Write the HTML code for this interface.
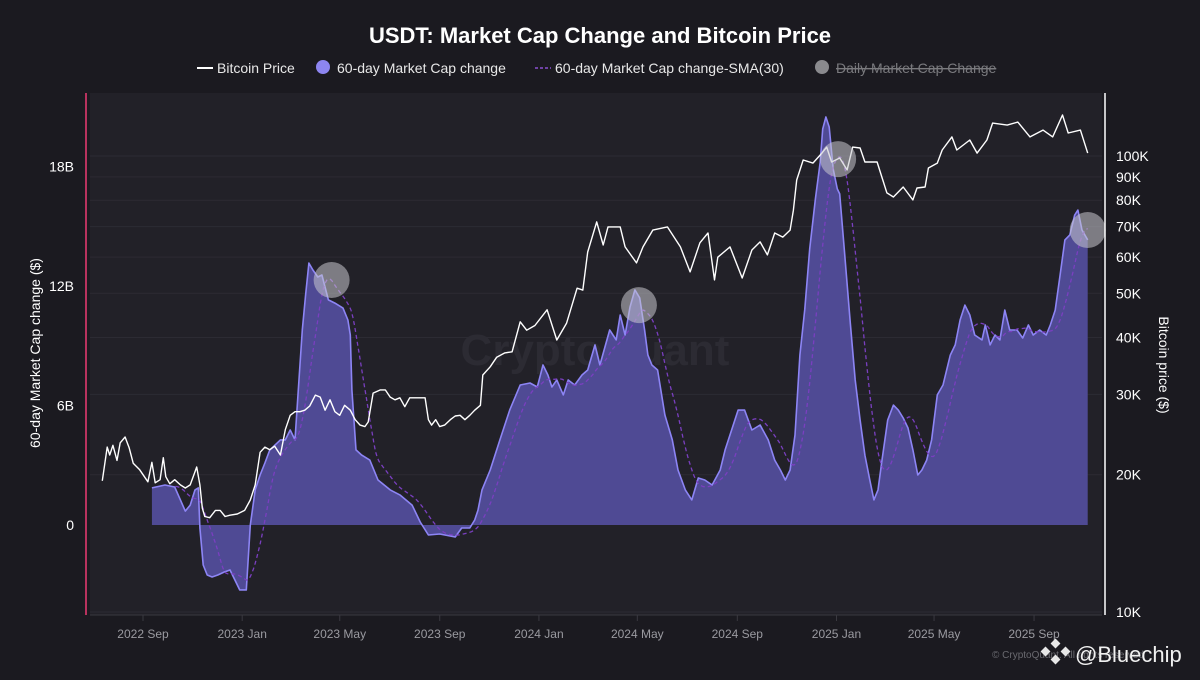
<!DOCTYPE html>
<html><head><meta charset="utf-8">
<style>
html,body{margin:0;padding:0;background:#1b1a20;}
body{width:1200px;height:675px;overflow:hidden;font-family:"Liberation Sans",sans-serif;}
svg text{font-family:"Liberation Sans",sans-serif;}
</style></head>
<body>
<svg id="chart" width="1200" height="675" xmlns="http://www.w3.org/2000/svg">
  <rect x="0" y="0" width="1200" height="675" fill="#1b1a20"/>
  <text x="600" y="43" text-anchor="middle" fill="#ffffff" font-size="22" font-weight="bold">USDT: Market Cap Change and Bitcoin Price</text>
  <g font-size="14" fill="#e8e8e8">
    <g>
      <line x1="197" y1="68" x2="213" y2="68" stroke="#fff" stroke-width="2"/>
      <text x="217" y="73">Bitcoin Price</text>
    </g>
    <g>
      <circle cx="323" cy="67" r="7" fill="#8d85f0"/>
      <text x="337" y="73">60-day Market Cap change</text>
    </g>
    <g>
      <line x1="535" y1="68" x2="551" y2="68" stroke="#8a4fd0" stroke-width="1.5" stroke-dasharray="3,2"/>
      <text x="555" y="73">60-day Market Cap change-SMA(30)</text>
    </g>
    <g>
      <circle cx="822" cy="67" r="7" fill="#8a8a8e"/>
      <text x="836" y="73" fill="#7a7a7e" text-decoration="line-through">Daily Market Cap Change</text>
    </g>
  </g>
  <rect x="90" y="93" width="1012" height="522" fill="#222128"/>
  <text x="595" y="365" text-anchor="middle" fill="#2c2b33" font-size="44" font-weight="bold">CryptoQuant</text>
  <g id="grid"></g>
  <g id="area"></g>
  <g id="price"></g>
  <g id="marks"></g>
  <line x1="86" y1="93" x2="86" y2="615" stroke="#b8325e" stroke-width="2"/>
  <line x1="1105" y1="93" x2="1105" y2="615" stroke="#ffffff" stroke-width="1.5"/>
  <line x1="90" y1="615" x2="1102" y2="615" stroke="#3a3940" stroke-width="1"/>
  <g id="axes"></g>
  <text transform="translate(40,353) rotate(-90)" text-anchor="middle" fill="#fff" font-size="14">60-day Market Cap change ($)</text>
  <text transform="translate(1159,365) rotate(90)" text-anchor="middle" fill="#fff" font-size="14">Bitcoin price ($)</text>
  <text x="992" y="658" fill="#6a6a70" font-size="10">© CryptoQuant. All rights reserved</text>
  <g fill="#e8e8e8">
    <rect x="1052" y="640" width="7" height="7" transform="rotate(45 1055.5 643.5)"/>
    <rect x="1042" y="648" width="7" height="7" transform="rotate(45 1045.5 651.5)"/>
    <rect x="1062" y="648" width="7" height="7" transform="rotate(45 1065.5 651.5)"/>
    <rect x="1052" y="656" width="7" height="7" transform="rotate(45 1055.5 659.5)"/>
  </g>
  <text x="1075" y="662" fill="#f0f0f0" font-size="22">@Bluechip</text>
</svg>
<script>
// days since 2022-09-01
const mcDays=[11,27,39,46,52,58,64,68,70,74,79,85,92,100,107,113,119,127,132,138,144,150,156,169,175,181,187,191,196,200,204,209,215,220,228,236,246,252,255,257,262,269,279,289,304,316,331,341,351,365,384,392,402,408,412,417,427,439,451,464,476,485,492,498,503,509,517,523,531,540,547,556,562,574,582,587,593,599,605,611,617,621,626,633,642,651,658,667,675,683,691,700,710,716,724,732,740,749,759,769,777,784,790,796,802,808,814,820,827,833,836,840,844,849,854,857,863,870,876,882,888,894,899,904,909,916,923,929,935,941,947,953,958,964,970,977,984,993,999,1005,1011,1017,1023,1032,1036,1042,1048,1054,1060,1066,1075,1082,1089,1095,1103,1111,1116,1122,1128,1134,1140,1146,1150,1155,1162];
// 60-day market cap change, billions USD
const mcValues=[1.86,2.01,1.91,1.26,0.70,1.00,1.76,1.86,-0.15,-2.01,-2.51,-2.61,-2.51,-2.36,-2.26,-2.76,-3.26,-3.26,0.0,1.76,2.51,3.11,3.77,4.27,4.27,4.77,4.27,6.78,9.79,11.55,13.15,12.80,12.45,12.55,11.30,11.14,10.89,10.29,9.54,6.78,3.77,3.51,3.26,2.26,1.76,1.51,1.00,0.15,-0.50,-0.45,-0.60,-0.15,-0.15,0.25,0.75,1.76,2.76,4.27,5.77,7.03,7.13,6.93,8.03,7.53,6.93,7.28,6.53,7.28,7.03,7.53,7.78,9.04,8.03,9.79,9.29,10.54,9.54,10.94,11.80,11.40,9.79,8.53,8.03,7.78,5.52,4.27,2.76,1.76,1.26,2.36,2.26,2.01,2.76,3.77,4.77,5.77,5.77,4.77,5.02,4.27,3.26,2.76,2.26,2.76,4.52,8.53,10.84,13.86,16.37,18.22,19.88,20.48,19.98,17.87,16.87,16.62,13.65,10.14,7.28,5.27,3.51,2.26,1.26,1.76,3.26,5.27,6.02,5.77,5.37,4.87,3.77,2.51,2.76,3.26,4.27,6.53,7.03,8.53,9.04,10.29,11.04,10.54,9.54,9.29,10.04,9.04,9.54,9.29,10.79,9.79,9.79,9.39,10.04,9.54,9.79,9.54,10.04,10.79,12.55,14.31,14.56,15.56,15.81,14.81,14.31];
const btcDays=[-50,-44,-41,-37,-32,-28,-22,-17,-12,-4,6,11,15,21,25,28,33,39,46,52,58,64,66,70,73,76,82,89,95,101,107,116,125,132,138,144,150,156,162,169,175,181,187,193,199,205,212,218,224,230,236,242,248,255,261,267,273,277,283,292,298,304,310,316,322,328,347,351,355,360,365,371,378,384,390,396,402,408,415,418,427,435,445,454,464,472,482,497,509,521,534,541,547,558,566,572,587,593,607,615,627,645,661,673,685,695,703,707,722,737,749,759,768,777,787,796,800,804,812,824,835,841,847,857,866,873,882,888,903,910,915,923,935,947,952,962,966,977,983,995,1001,1017,1026,1038,1045,1063,1076,1091,1107,1119,1131,1138,1153,1162];
// bitcoin price, thousands USD
const btcPrices=[19.4,23.0,22.1,23.2,21.5,23.5,24.2,22.9,21.2,20.5,19.3,21.3,19.2,19.5,21.8,19.8,19.1,19.5,19.0,18.7,19.0,20.3,20.8,19.0,16.9,16.2,16.1,16.7,16.7,16.2,16.3,16.4,16.7,17.6,19.0,22.4,23.0,22.7,23.1,22.1,25.1,27.0,27.5,27.5,27.7,28.3,29.9,29.6,27.7,29.2,27.5,27.0,28.4,27.7,26.4,25.7,25.5,26.1,30.2,30.7,30.7,29.6,29.2,29.5,28.2,29.5,29.5,26.4,25.7,26.4,25.5,25.7,26.4,26.9,27.0,26.4,27.0,27.7,28.4,33.1,34.5,36.2,37.0,37.2,43.3,41.5,42.5,46.0,39.5,43.0,51.3,50.8,61.6,71.7,63.8,69.9,69.9,63.2,58.3,63.2,68.8,69.9,63.2,55.7,64.5,67.8,53.5,60.0,63.2,54.0,62.2,64.8,60.7,67.8,66.4,68.8,76.1,88.6,98.0,96.5,101.5,104.6,97.0,99.0,93.2,104.6,104.1,97.0,97.0,88.6,83.0,81.3,85.5,80.1,85.1,85.5,94.1,96.5,103.1,110.1,103.1,108.4,101.5,108.4,118.1,116.9,118.7,110.1,114.0,110.1,123.0,112.3,114.0,101.5];
const dailyDays=[232,610,855,1162];
const dailyValues=[12.3,11.04,18.37,14.81];
const leftTicks=[0,6,12,18];
const leftTickLabels=["0","6B","12B","18B"];
const rightTicks=[10,20,30,40,50,60,70,80,90,100];
const rightTickLabels=["10K","20K","30K","40K","50K","60K","70K","80K","90K","100K"];
const xTickDays=[0,122,242,365,487,608,731,853,973,1096];
const xTickLabels=["2022 Sep","2023 Jan","2023 May","2023 Sep","2024 Jan","2024 May","2024 Sep","2025 Jan","2025 May","2025 Sep"];

const NS="http://www.w3.org/2000/svg";
const X=d=>143+d*0.813;
const Y=v=>525-v*19.92;
const YP=p=>612-Math.log10(p/10)*456;
function mk(tag,attrs,parent){const e=document.createElementNS(NS,tag);for(const k in attrs)e.setAttribute(k,attrs[k]);parent.appendChild(e);return e;}
const grid=document.getElementById('grid'),area=document.getElementById('area'),price=document.getElementById('price'),marks=document.getElementById('marks'),axes=document.getElementById('axes');

rightTicks.forEach((t,i)=>{
  const y=YP(t);
  const g=mk('line',{x1:90,x2:1102,y1:y,y2:y,stroke:'#2c2b33','stroke-width':1},grid);
  
  
  const tx=mk('text',{x:1116,y:y+5,fill:'#fff','font-size':14},axes);
  tx.textContent=rightTickLabels[i];
  
  
});
leftTicks.forEach((t,i)=>{
  const tx=mk('text',{x:74,y:Y(t)+5,fill:'#fff','font-size':14,'text-anchor':'end'},axes);
  tx.textContent=leftTickLabels[i];
  
  
});
xTickDays.forEach((d,i)=>{
  const x=X(d);
  const tk=mk('line',{x1:x,x2:x,y1:615,y2:621,stroke:'#3a3940'},axes);
  
  
  const tx=mk('text',{x:x,y:638,fill:'#9a9aa0','font-size':12,'text-anchor':'middle'},axes);
  tx.textContent=xTickLabels[i];
  
  
});

// area + line
let pts=mcDays.map((d,i)=>X(d).toFixed(1)+','+Y(mcValues[i]).toFixed(1));
let ad='M'+X(mcDays[0])+','+Y(0)+' L'+pts.join(' L')+' L'+X(mcDays[mcDays.length-1])+','+Y(0)+' Z';
const ap=mk('path',{d:ad,fill:'#4f4a94'},area);


const lp=mk('path',{d:'M'+pts.join(' L'),fill:'none',stroke:'#8d85f5','stroke-width':1.6,'stroke-linejoin':'round'},area);



// SMA(30) from daily-interpolated series
const daily=[];
for(let d=mcDays[0];d<=mcDays[mcDays.length-1];d++){
  let j=0;while(j<mcDays.length-2&&mcDays[j+1]<d)j++;
  const t=(d-mcDays[j])/(mcDays[j+1]-mcDays[j]);
  daily.push([d,mcValues[j]+(mcValues[j+1]-mcValues[j])*Math.min(1,Math.max(0,t))]);
}
const sp=[];
for(let i=29;i<daily.length;i+=2){let s=0;for(let k=i-29;k<=i;k++)s+=daily[k][1];sp.push(X(daily[i][0]).toFixed(1)+','+Y(s/30).toFixed(1));}
const sl=mk('path',{d:'M'+sp.join(' L'),fill:'none',stroke:'#7a3fc0','stroke-width':1.3,'stroke-dasharray':'4,3'},area);



// price
const pp=btcDays.map((d,i)=>X(d).toFixed(1)+','+YP(btcPrices[i]).toFixed(1));
const pl=mk('path',{d:'M'+pp.join(' L'),fill:'none',stroke:'#ffffff','stroke-width':1.4,'stroke-linejoin':'round'},price);



dailyDays.forEach((d,i)=>{
  const c=mk('circle',{cx:X(d),cy:Y(dailyValues[i]),r:18,fill:'rgba(200,200,205,0.55)'},marks);
  
  
});
</script>
</body></html>
